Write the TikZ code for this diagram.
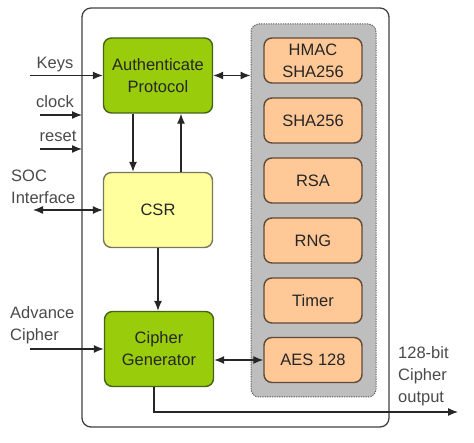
\documentclass[tikz,border=0pt]{standalone}
\usepackage{fontspec}
\setmainfont{Liberation Sans}
\usetikzlibrary{arrows.meta}

\definecolor{authgreen}{HTML}{99CC0A}
\definecolor{greenline}{HTML}{46621A}
\definecolor{csryellow}{HTML}{FFFF9E}
\definecolor{yellowline}{HTML}{77775A}
\definecolor{coreorange}{HTML}{FFC896}
\definecolor{orangeline}{HTML}{5E4A38}
\definecolor{coregray}{HTML}{BEBEBE}
\definecolor{labelgray}{HTML}{4A4A4A}

\begin{document}
\begin{tikzpicture}[x=1pt,y=-1pt,>={Latex[length=10pt,width=8pt]},
  every node/.style={font=\fontsize{16.5}{22}\selectfont},
  blk/.style={draw,rounded corners=8pt,line width=1.4pt,minimum width=109pt,minimum height=75pt,align=center,text=black!85},
  core/.style={draw=orangeline,fill=coreorange,rounded corners=8pt,line width=1.4pt,minimum width=98pt,minimum height=45pt,align=center,text=black!85},
  lbl/.style={text=labelgray,align=left,inner sep=0pt},
  wire/.style={line width=1.3pt,black!85}]

 \useasboundingbox (0,0) rectangle (474,443);

 % top level box
 \draw[line width=1.3pt,rounded corners=9pt,black!75] (82,8) rectangle (389,427);

 % crypto cores
 \node[fill=coregray,draw=black!65,dash pattern=on 1.2pt off 1.2pt,line width=1pt,rounded corners=8pt,minimum width=125pt,minimum height=373pt] (engines) at (313.5,210.5) {};
 \node[core] (hmac) at (313,60.5) {HMAC\\SHA256};
 \node[core] (sha) at (313,120.5) {SHA256};
 \node[core] (rsa) at (313,180.5) {RSA};
 \node[core] (rng) at (313,240.5) {RNG};
 \node[core] (timer) at (313,300.5) {Timer};
 \node[core] (aes) at (313,360) {AES 128};

 % main blocks
 \node[blk,fill=authgreen,draw=greenline] (auth) at (158,75.5) {Authenticate\\Protocol};
 \node[blk,fill=csryellow,draw=yellowline] (csr) at (158,210) {CSR};
 \node[blk,fill=authgreen,draw=greenline] (cipher) at (159,349) {Cipher\\Generator};

 % inputs and outputs
 \coordinate (keysin) at (30,75.5);
 \coordinate (clkin) at (40,115);
 \coordinate (clkend) at (82,115);
 \coordinate (rstin) at (40,149);
 \coordinate (rstend) at (82,149);
 \coordinate (socin) at (33,210);
 \coordinate (advin) at (30,349);
 \coordinate (outend) at (458,412);

 \node[lbl,anchor=base] (keyslbl) at (55,69) {Keys};
 \node[lbl,anchor=base] (clklbl) at (55,108) {clock};
 \node[lbl,anchor=base] (rstlbl) at (58,142) {reset};
 \node[lbl,anchor=base west] (soclbl) at (11,204) {SOC\\Interface};
 \node[lbl,anchor=base west] (advlbl) at (10,341) {Advance\\Cipher};
 \node[lbl,anchor=base west] (outlbl) at (398,403) {128-bit\\Cipher\\output};

 \draw[wire,->] (keysin) -- (auth);
 \draw[wire,->] (clkin) -- (clkend);
 \draw[wire,->] (rstin) -- (rstend);
 \draw[wire,<->] (socin) -- (csr);
 \draw[wire,->] (advin) -- (cipher);
 \draw[wire,<->] (auth.east) -- (engines.west |- auth.east);
 \draw[wire,<->] (cipher.east |- aes.west) -- (aes.west);
 \draw[wire,->] ([xshift=-25pt]auth.south) -- ([xshift=-25pt]csr.north);
 \draw[wire,->] ([xshift=23pt]csr.north) -- ([xshift=23pt]auth.south);
 \draw[wire,->] (csr.south) -- (csr.south |- cipher.north);
 \draw[wire,->] ([xshift=-5pt]cipher.south) |- (outend);

\end{tikzpicture}
\end{document}
